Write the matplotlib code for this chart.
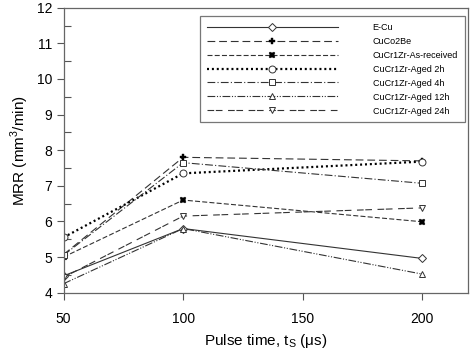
import matplotlib
matplotlib.use("Agg")
import matplotlib.pyplot as plt
from matplotlib.ticker import MultipleLocator

plt.rcParams['font.family'] = ['Liberation Sans', 'DejaVu Sans']

# pulse times and MRR values
pulse = [50, 100, 200]
e_cu = [4.47, 5.80, 4.96]
cuco2be = [5.07, 7.80, 7.70]
as_received = [5.00, 6.60, 5.99]
aged_2h = [5.55, 7.35, 7.68]
aged_4h = [5.05, 7.65, 7.07]
aged_12h = [4.25, 5.80, 4.52]
aged_24h = [4.43, 6.15, 6.38]

labels = ["E-Cu", "CuCo2Be", "CuCr1Zr-As-received", "CuCr1Zr-Aged 2h",
          "CuCr1Zr-Aged 4h", "CuCr1Zr-Aged 12h", "CuCr1Zr-Aged 24h"]

fig = plt.figure(figsize=(4.74, 3.53), dpi=100)
ax = fig.add_axes([0.134, 0.171, 0.853, 0.807])

c = '#333333'
ms = 5
ax.plot(pulse, e_cu, color=c, lw=0.8, ls='-', marker='D', ms=4.2, mfc='white', mec=c, mew=0.7, label=labels[0])
ax.plot(pulse, cuco2be, color=c, lw=0.8, ls=(0, (7, 3.5)), marker='P', ms=5, mfc='black', mec='black', mew=0.3, label=labels[1])
ax.plot(pulse, as_received, color=c, lw=0.8, ls=(0, (4.5, 2)), marker='X', ms=5, mfc='black', mec='black', mew=0.3, label=labels[2])
ax.plot(pulse, aged_2h, color='black', lw=1.6, ls=(0, (0.9, 1.3)), marker='o', ms=ms, mfc='white', mec=c, mew=0.7, label=labels[3])
ax.plot(pulse, aged_4h, color=c, lw=0.8, ls=(0, (7, 2, 1, 2)), marker='s', ms=ms, mfc='white', mec=c, mew=0.7, label=labels[4])
ax.plot(pulse, aged_12h, color=c, lw=0.8, ls=(0, (7, 1.5, 1, 1.5, 1, 1.5)), marker='^', ms=ms, mfc='white', mec=c, mew=0.7, label=labels[5])
ax.plot(pulse, aged_24h, color=c, lw=0.8, ls=(0, (6, 1.5, 6, 5)), marker='v', ms=ms, mfc='white', mec=c, mew=0.7, label=labels[6])

ax.set_xlim(50, 219)
ax.set_ylim(4, 12)
ax.set_xticks([50, 100, 150, 200])
ax.yaxis.set_major_locator(MultipleLocator(1))
ax.yaxis.set_minor_locator(MultipleLocator(0.5))
ax.tick_params(axis='both', which='major', direction='out', length=5, width=0.8,
               color='#555555', labelsize=10, pad=3)
ax.tick_params(axis='x', which='major', pad=9)
ax.tick_params(axis='y', which='minor', direction='in', length=5, width=0.8, color='#555555')
for s in ax.spines.values():
    s.set_color('#666666')
    s.set_linewidth(0.9)

ax.set_xlabel(r"Pulse time, t$_\mathregular{S}$ ($\mathregular{\mu}$s)", fontsize=11, labelpad=4)
ax.set_ylabel(r"MRR (mm$^\mathregular{3}$/min)", fontsize=11, labelpad=4)

leg = ax.legend(loc='upper right', bbox_to_anchor=(0.9926, 0.971), borderaxespad=0,
                fontsize=6.5, handlelength=14.6, handletextpad=3.8, labelspacing=0.55,
                borderpad=0.75, frameon=True, fancybox=False)
leg.get_frame().set_edgecolor('#555555')
leg.get_frame().set_linewidth(0.9)

fig.savefig("out.png", dpi=100)
